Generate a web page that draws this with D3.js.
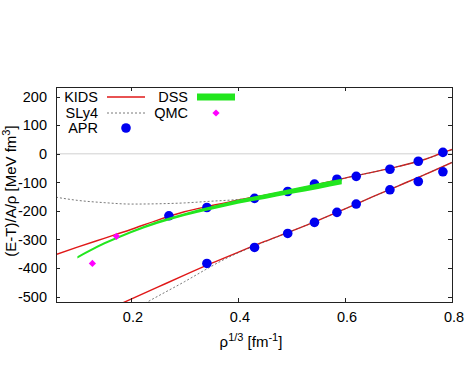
<!DOCTYPE html>
<html>
<head>
<meta charset="utf-8">
<script src="https://cdn.jsdelivr.net/npm/d3@7"></script>
<style>
    body { margin: 0; background: #fff; }
    svg { display: block; font-family: "Liberation Sans", Arial, Helvetica, sans-serif; }
</style>
</head>
<body>
<svg width="474" height="366"></svg>
<script>
// tick labels
const xTicks = [ 0.2, 0.4, 0.6, 0.8 ];
const yTicks = [ 200, 100, 0, -100, -200, -300, -400, -500 ];

// KIDS (red, two branches)
const kidsUpperX = [ 0.06, 0.10, 0.15, 0.20, 0.25, 0.30, 0.35, 0.40, 0.45, 0.50, 0.55, 0.60, 0.65, 0.70, 0.75, 0.78, 0.80 ];
const kidsUpperY = [ -353, -327, -296, -265, -232, -203, -182, -162, -145, -127, -107, -85, -65, -44, -19, 2, 15 ];
const kidsLowerX = [ 0.18, 0.25, 0.30, 0.35, 0.40, 0.45, 0.50, 0.55, 0.60, 0.65, 0.70, 0.75, 0.80 ];
const kidsLowerY = [ -526, -467, -425, -384, -345, -307, -271, -233, -193, -152, -112, -72, -30 ];

// SLy4 (grey dashed)
const sly4UpperX = [ 0.06, 0.10, 0.15, 0.20, 0.25, 0.30, 0.35, 0.40, 0.43, 0.45, 0.50, 0.55, 0.60, 0.65, 0.70, 0.75, 0.80 ];
const sly4UpperY = [ -152, -163, -171, -176, -175, -172, -166, -160, -154, -146, -127, -107, -85, -65, -44, -19, 14 ];
const sly4LowerX = [ 0.22, 0.25, 0.30, 0.34, 0.37, 0.40, 0.45, 0.50, 0.55, 0.60, 0.65, 0.70, 0.75, 0.80 ];
const sly4LowerY = [ -530, -499, -448, -405, -374, -347, -308, -271, -233, -193, -152, -112, -72, -30 ];

// DSS band (green)
const dssX = [ 0.10, 0.15, 0.20, 0.25, 0.30, 0.35, 0.40, 0.45, 0.50, 0.55, 0.594 ];
const dssLow = [ -367, -318, -278, -245, -218, -196, -175, -158, -140, -123, -107 ];
const dssHigh = [ -359, -310, -270, -235, -208, -184, -161, -142, -122, -103, -87 ];

// QMC (magenta diamonds)
const qmcX = [ 0.128, 0.173 ];
const qmcY = [ -384, -289 ];

// APR (blue circles)
const aprUpperX = [ 0.271, 0.342, 0.431, 0.493, 0.543, 0.585, 0.621, 0.684, 0.737, 0.783 ];
const aprUpperY = [ -217, -188, -156, -132, -106, -89, -79, -54, -26, 5 ];
const aprLowerX = [ 0.342, 0.431, 0.493, 0.543, 0.585, 0.621, 0.684, 0.737, 0.783 ];
const aprLowerY = [ -384, -328, -279, -240, -205, -176, -126, -97, -63 ];

const zip = ( xs, ys ) => xs.map( ( x, i ) => [ x, ys[ i ] ] );

const config = { left: 56, right: 452, top: 87, bottom: 302 };
const colors = { kids: '#e01818', sly4: '#555', dss: '#22e61e', qmc: '#ff00ff', apr: '#0000f0' };

const svg = d3.select( 'svg' );

const xScale = d3.scaleLinear().domain( [ 0.06, 0.8 ] ).range( [ config.left, config.right ] );
const yScale = d3.scaleLinear().domain( [ -519, 234 ] ).range( [ config.bottom, config.top ] );

svg.append( 'clipPath' ).attr( 'id', 'plot-clip' )
    .append( 'rect' )
    .attr( 'x', config.left ).attr( 'y', config.top )
    .attr( 'width', config.right - config.left ).attr( 'height', config.bottom - config.top );

// zero line
svg.append( 'line' )
    .attr( 'x1', config.left ).attr( 'x2', config.right )
    .attr( 'y1', yScale( 0 ) ).attr( 'y2', yScale( 0 ) )
    .attr( 'stroke', '#c4c4c4' ).attr( 'stroke-width', 0.8 );

const drawGroup = svg.append( 'g' ).attr( 'clip-path', 'url(#plot-clip)' );

const line = d3.line()
    .x( d => xScale( d[ 0 ] ) )
    .y( d => yScale( d[ 1 ] ) )
    .curve( d3.curveMonotoneX );

// KIDS
[ zip( kidsUpperX, kidsUpperY ), zip( kidsLowerX, kidsLowerY ) ].forEach( ( pts ) => {
    drawGroup.append( 'path' ).datum( pts )
        .attr( 'd', line )
        .attr( 'fill', 'none' )
        .attr( 'stroke', colors.kids )
        .attr( 'stroke-width', 1.4 );
} );

// SLy4
[ zip( sly4UpperX, sly4UpperY ), zip( sly4LowerX, sly4LowerY ) ].forEach( ( pts ) => {
    drawGroup.append( 'path' ).datum( pts )
        .attr( 'd', line )
        .attr( 'fill', 'none' )
        .attr( 'stroke', colors.sly4 )
        .attr( 'stroke-width', 0.8 )
        .attr( 'stroke-dasharray', '2,2' );
} );

// APR
const aprPoints = zip( aprUpperX, aprUpperY ).concat( zip( aprLowerX, aprLowerY ) );
drawGroup.selectAll( 'circle.apr' ).data( aprPoints )
    .enter().append( 'circle' )
    .attr( 'class', 'apr' )
    .attr( 'cx', d => xScale( d[ 0 ] ) )
    .attr( 'cy', d => yScale( d[ 1 ] ) )
    .attr( 'r', 4.8 )
    .attr( 'fill', colors.apr );

// DSS band
const band = d3.area()
    .x( d => xScale( d.x ) )
    .y0( d => yScale( d.lo ) )
    .y1( d => yScale( d.hi ) )
    .curve( d3.curveMonotoneX );
drawGroup.append( 'path' )
    .datum( dssX.map( ( x, i ) => ( { x, lo: dssLow[ i ], hi: dssHigh[ i ] } ) ) )
    .attr( 'd', band )
    .attr( 'fill', colors.dss );

// QMC - gnuplot style diamond (square turned 45 degrees)
const diamond = d3.symbol().type( d3.symbolSquare ).size( 26 );
drawGroup.selectAll( 'path.qmc' ).data( zip( qmcX, qmcY ) )
    .enter().append( 'path' )
    .attr( 'class', 'qmc' )
    .attr( 'd', diamond )
    .attr( 'transform', d => `translate(${xScale( d[ 0 ] )},${yScale( d[ 1 ] )}) rotate(45)` )
    .attr( 'fill', colors.qmc );

// frame and ticks (mirrored, inward like gnuplot)
const axisGroup = svg.append( 'g' ).attr( 'stroke', '#222' ).attr( 'stroke-width', 1 );
const tickLen = 4;
yTicks.forEach( ( v ) => {
    const y = Math.round( yScale( v ) ) + 0.5;
    axisGroup.append( 'line' ).attr( 'x1', config.left ).attr( 'x2', config.left + tickLen ).attr( 'y1', y ).attr( 'y2', y );
    axisGroup.append( 'line' ).attr( 'x1', config.right ).attr( 'x2', config.right - tickLen ).attr( 'y1', y ).attr( 'y2', y );
} );
xTicks.forEach( ( v ) => {
    const x = Math.round( xScale( v ) ) + 0.5;
    axisGroup.append( 'line' ).attr( 'x1', x ).attr( 'x2', x ).attr( 'y1', config.bottom ).attr( 'y2', config.bottom - tickLen );
    axisGroup.append( 'line' ).attr( 'x1', x ).attr( 'x2', x ).attr( 'y1', config.top ).attr( 'y2', config.top + tickLen );
} );
axisGroup.append( 'rect' )
    .attr( 'x', config.left + 0.5 ).attr( 'y', config.top + 0.5 )
    .attr( 'width', config.right - config.left ).attr( 'height', config.bottom - config.top )
    .attr( 'fill', 'none' );

// tick labels
const fontSize = 14.5;
svg.append( 'g' ).selectAll( 'text' ).data( yTicks )
    .enter().append( 'text' )
    .attr( 'x', config.left - 9 )
    .attr( 'y', d => yScale( d ) )
    .attr( 'dy', '0.36em' )
    .attr( 'text-anchor', 'end' )
    .attr( 'font-size', fontSize )
    .text( d => d );

svg.append( 'g' ).selectAll( 'text' ).data( xTicks )
    .enter().append( 'text' )
    .attr( 'x', d => xScale( d ) + 2 )
    .attr( 'y', config.bottom + 20 )
    .attr( 'text-anchor', 'middle' )
    .attr( 'font-size', fontSize )
    .text( d => d3.format( '.1f' )( d ) );

// axis labels
const xLabel = svg.append( 'text' )
    .attr( 'x', 251 ).attr( 'y', 347 )
    .attr( 'text-anchor', 'middle' )
    .attr( 'font-size', 15 );
xLabel.append( 'tspan' ).text( 'ρ' );
xLabel.append( 'tspan' ).attr( 'dy', -6 ).attr( 'font-size', 11 ).text( '1/3' );
xLabel.append( 'tspan' ).attr( 'dy', 6 ).text( ' [fm' );
xLabel.append( 'tspan' ).attr( 'dy', -6 ).attr( 'font-size', 11 ).text( '-1' );
xLabel.append( 'tspan' ).attr( 'dy', 6 ).text( ']' );

const yLabel = svg.append( 'text' )
    .attr( 'transform', 'translate(16,191) rotate(-90)' )
    .attr( 'text-anchor', 'middle' )
    .attr( 'font-size', 15 );
yLabel.append( 'tspan' ).text( '(E-T)/A/ρ [MeV fm' );
yLabel.append( 'tspan' ).attr( 'dy', -6 ).attr( 'font-size', 11 ).text( '3' );
yLabel.append( 'tspan' ).attr( 'dy', 6 ).text( ']' );

// legend
const legend = svg.append( 'g' ).attr( 'font-size', fontSize );
const legendRows = [ 97, 113, 128 ];
const legendText = ( x, y, label ) => legend.append( 'text' )
    .attr( 'x', x ).attr( 'y', y ).attr( 'dy', '0.36em' )
    .attr( 'text-anchor', 'end' ).text( label );

legendText( 98, legendRows[ 0 ], 'KIDS' );
legend.append( 'line' ).attr( 'x1', 107 ).attr( 'x2', 145 ).attr( 'y1', legendRows[ 0 ] ).attr( 'y2', legendRows[ 0 ] )
    .attr( 'stroke', colors.kids ).attr( 'stroke-width', 1.4 );

legendText( 98, legendRows[ 1 ], 'SLy4' );
legend.append( 'line' ).attr( 'x1', 107 ).attr( 'x2', 145 ).attr( 'y1', legendRows[ 1 ] ).attr( 'y2', legendRows[ 1 ] )
    .attr( 'stroke', colors.sly4 ).attr( 'stroke-width', 0.8 ).attr( 'stroke-dasharray', '2,2' );

legendText( 98, legendRows[ 2 ], 'APR' );
legend.append( 'circle' ).attr( 'cx', 126 ).attr( 'cy', legendRows[ 2 ] ).attr( 'r', 4.8 ).attr( 'fill', colors.apr );

legendText( 188, legendRows[ 0 ], 'DSS' );
legend.append( 'rect' ).attr( 'x', 197 ).attr( 'y', legendRows[ 0 ] - 3.5 ).attr( 'width', 38 ).attr( 'height', 7 )
    .attr( 'fill', colors.dss );

legendText( 188, legendRows[ 1 ], 'QMC' );
legend.append( 'path' ).attr( 'd', diamond ).attr( 'transform', `translate(216,${legendRows[ 1 ]}) rotate(45)` )
    .attr( 'fill', colors.qmc );
</script>
</body>
</html>
